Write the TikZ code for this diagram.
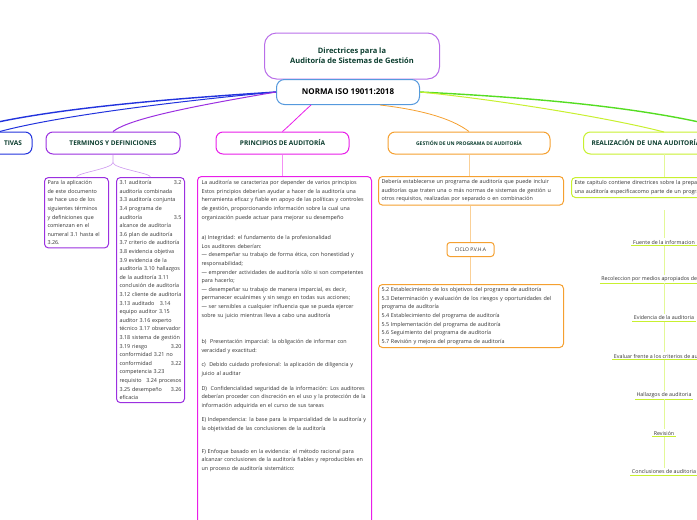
\documentclass[tikz,border=0pt]{standalone}
\usepackage{fontspec}
\setmainfont{Open Sans}
\hyphenpenalty=10000
\exhyphenpenalty=10000
\definecolor{cblue}{HTML}{2233DD}
\definecolor{cpurple}{HTML}{9B30E0}
\definecolor{cmag}{HTML}{E91EE9}
\definecolor{corange}{HTML}{F5A030}
\definecolor{cyg}{HTML}{C8F030}
\definecolor{cgreen}{HTML}{55DD22}
\definecolor{ctitle}{HTML}{0B3D2E}
\definecolor{cnorm}{HTML}{5599DD}
\tikzset{
 lvl/.style={draw=#1,line width=1pt,rounded corners=7pt,fill=white,font=\fontsize{6.5}{8}\selectfont\bfseries,text=ctitle,inner sep=0pt},
 txt/.style={draw=#1,line width=1pt,rounded corners=4pt,fill=white,font=\fontsize{5.4}{8.6}\selectfont,text=black!80,align=left,anchor=north west,inner sep=3pt},
 item/.style={font=\fontsize{5.3}{6}\selectfont,text=black!80,inner sep=1.5pt},
}
\begin{document}
\begin{tikzpicture}[x=1pt,y=-1pt]
\useasboundingbox (0,0) rectangle (697,520);
\clip (0,0) rectangle (697,520);
% title
\node[draw=cpurple!70,line width=1pt,rounded corners=12pt,minimum width=175pt,minimum height=46pt,align=center,font=\fontsize{7.5}{10}\selectfont\bfseries,text=ctitle] (title) at (352,56) {Directrices para la\\Auditoría de Sistemas de Gestión};
\node[draw=cnorm,line width=1pt,rounded corners=8pt,minimum width=143pt,minimum height=25pt,font=\fontsize{8}{10}\selectfont\bfseries,fill=white] (norma) at (348,92) {NORMA ISO 19011:2018};
% level 1
\node[lvl=cblue,minimum width=60pt,minimum height=22pt] (ivas) at (2,143) {\hspace*{22pt}TIVAS};
\node[lvl=cpurple,minimum width=134pt,minimum height=22pt] (term) at (113,143) {TERMINOS Y DEFINICIONES};
\node[lvl=cmag,minimum width=133pt,minimum height=22pt] (prin) at (282.5,143) {PRINCIPIOS DE AUDITORÍA};
\node[lvl=corange,minimum width=162pt,minimum height=22pt,font=\fontsize{5}{6}\selectfont\bfseries] (gest) at (469,143) {GESTIÓN DE UN PROGRAMA DE AUDITORÍA};
\node[lvl=cyg,minimum width=180pt,minimum height=22pt,anchor=west,text width=170pt,align=left] (real) at (583,143) {\hspace*{3pt}REALIZACIÓN DE UNA AUDITORÍA};
% connectors from norma
\coordinate (lb1) at (-2,122);
\coordinate (lb2) at (-2,132);
\coordinate (rg) at (699,122);
\draw[cblue,line width=1.4pt] (norma.west) .. controls (200,97) and (80,105) .. (lb1);
\draw[cblue,line width=1pt] (norma.west) .. controls (190,100) and (60,115) .. (lb2);
\draw[cpurple,line width=1pt] (norma.west) .. controls (200,105) and (130,118) .. (term.north);
\draw[cmag,line width=0.8pt] (norma.south west) ++(35,0) .. controls (300,115) and (290,125) .. (prin.north);
\draw[corange,line width=0.8pt] (norma.south east) ++(-40,0) .. controls (440,112) and (460,125) .. (gest.north);
\draw[cgreen,line width=1.4pt] (norma.east) .. controls (520,97) and (620,105) .. (rg);
\draw[cyg,line width=1pt] (norma.east) .. controls (500,100) and (610,118) .. (664,132);
% terminos children
\node[txt=cpurple,text width=58pt] (t1) at (44,177) {Para la aplicación de este documento se hace uso de los siguientes términos y definiciones que comienzan en el numeral 3.1 hasta el 3.26.};
\node[txt=cpurple,text width=62pt] (t2) at (116,177) {3.1 auditoría\hfill 3.2 auditoría combinada 3.3 auditoría conjunta 3.4 programa de auditoría\hfill 3.5 alcance de auditoría 3.6 plan de auditoría 3.7 criterio de auditoría\hfill 3.8 evidencia objetiva 3.9 evidencia de la auditoría 3.10 hallazgos de la auditoría 3.11 conclusión de auditoría 3.12 cliente de auditoría\hfill 3.13 auditado\quad 3.14 equipo auditor 3.15 auditor 3.16 experto técnico 3.17 observador 3.18 sistema de gestión\hfill 3.19 riesgo\hfill 3.20 conformidad 3.21 no conformidad\hfill 3.22 competencia 3.23 requisito\hfill 3.24 procesos\hfill 3.25 desempeño\hfill 3.26 eficacia};
\draw[cpurple!50,line width=0.6pt] (term.south) -- ++(0,8) .. controls +(0,6) and +(0,-4) .. (t1.north);
\draw[cpurple!50,line width=0.6pt] (term.south) ++(0,8) .. controls +(0,6) and +(0,-4) .. (t2.north);
% principios
\node[txt=cmag,text width=166pt,inner sep=4pt] (p1) at (197,176) {La auditoría se caracteriza por depender de varios principios Estos principios deberían ayudar a hacer de la auditoría una herramienta eficaz y fiable en apoyo de las políticas y controles de gestión, proporcionando información sobre la cual una organización puede actuar para mejorar su desempeño\\[12pt]
a) Integridad: el fundamento de la profesionalidad\\Los auditores deberían:\\— desempeñar su trabajo de forma ética, con honestidad y responsabilidad;\\— emprender actividades de auditoría sólo si son competentes para hacerlo;\\— desempeñar su trabajo de manera imparcial, es decir, permanecer ecuánimes y sin sesgo en todas sus acciones;\\— ser sensibles a cualquier influencia que se pueda ejercer sobre su juicio mientras lleva a cabo una auditoría\\[18pt]
b)\ \ Presentación imparcial: la obligación de informar con veracidad y exactitud:\\[6pt]
c)\ \ Debido cuidado profesional: la aplicación de diligencia y juicio al auditar\\[6pt]
D)\ \ Confidencialidad seguridad de la información: Los auditores deberían proceder con discreción en el uso y la protección de la información adquirida en el curso de sus tareas\\[6pt]
E) Independencia: la base para la imparcialidad de la auditoría y la objetividad de las conclusiones de la auditoría\\[14pt]
F) Enfoque basado en la evidencia: el método racional para alcanzar conclusiones de la auditoría fiables y reproducibles en un proceso de auditoría sistemático:\\[50pt]\strut};
\draw[cmag!50,line width=0.6pt] (prin.south) -- (prin.south |- p1.north);
% gestion
\node[txt=corange,text width=179pt] (g1) at (378,176) {Debería establecerse un programa de auditoría que puede incluir auditorías que traten una o más normas de sistemas de gestión u otros requisitos, realizadas por separado o en combinación};
\node[draw=corange,line width=1pt,rounded corners=3pt,fill=white,font=\fontsize{5}{6}\selectfont,text=black!80,minimum width=47pt,minimum height=14pt] (ciclo) at (470.5,249.5) {CICLO P.V.H.A};
\node[txt=corange,text width=179pt] (g2) at (378,284) {5.2 Establecimiento de los objetivos del programa de auditoría\\5.3 Determinación y evaluación de los riesgos y oportunidades del programa de auditoría\\5.4 Establecimiento del programa de auditoría\\5.5 Implementación del programa de auditoría\\5.6 Seguimiento del programa de auditoría\\5.7 Revisión y mejora del programa de auditoría};
\draw[corange!50,line width=0.6pt] (gest.south) -- (gest.south |- g1.north);
\draw[corange!50,line width=0.6pt] (ciclo.north |- g1.south) -- (ciclo.north);
\draw[corange!50,line width=0.6pt] (ciclo.south) -- (ciclo.south |- g2.north);
% realizacion
\node[txt=cyg,text width=190pt] (r1) at (571,177) {Este capitulo contiene directrices sobre la preparación y realización de una auditoría especificacomo parte de un programa de auditoría};
\draw[cyg!50,line width=0.6pt] (664,154) -- (664,177);
\foreach \n/\y/\t in {a/242/Fuente de la informacion,b/279/Recoleccion por medios apropiados de verificación,c/318/Evidencia de la auditoria,d/356/Evaluar frente a los criterios de auditoría,e/395/Hallazgos de auditoria,f/433/Revisión,g/472/Conclusiones de auditoria}{
 \node[item] (\n) at (664,\y) {\t};
 \draw[cyg,line width=1.2pt] (\n.south west) -- (\n.south east);
}
\draw[cyg!50,line width=0.6pt] (664,210) -- (a.north);
\draw[cyg!50,line width=0.6pt] (a.south) -- (b.north);
\draw[cyg!50,line width=0.6pt] (b.south) -- (c.north);
\draw[cyg!50,line width=0.6pt] (c.south) -- (d.north);
\draw[cyg!50,line width=0.6pt] (d.south) -- (e.north);
\draw[cyg!50,line width=0.6pt] (e.south) -- (f.north);
\draw[cyg!50,line width=0.6pt] (f.south) -- (g.north);
\end{tikzpicture}
\end{document}
